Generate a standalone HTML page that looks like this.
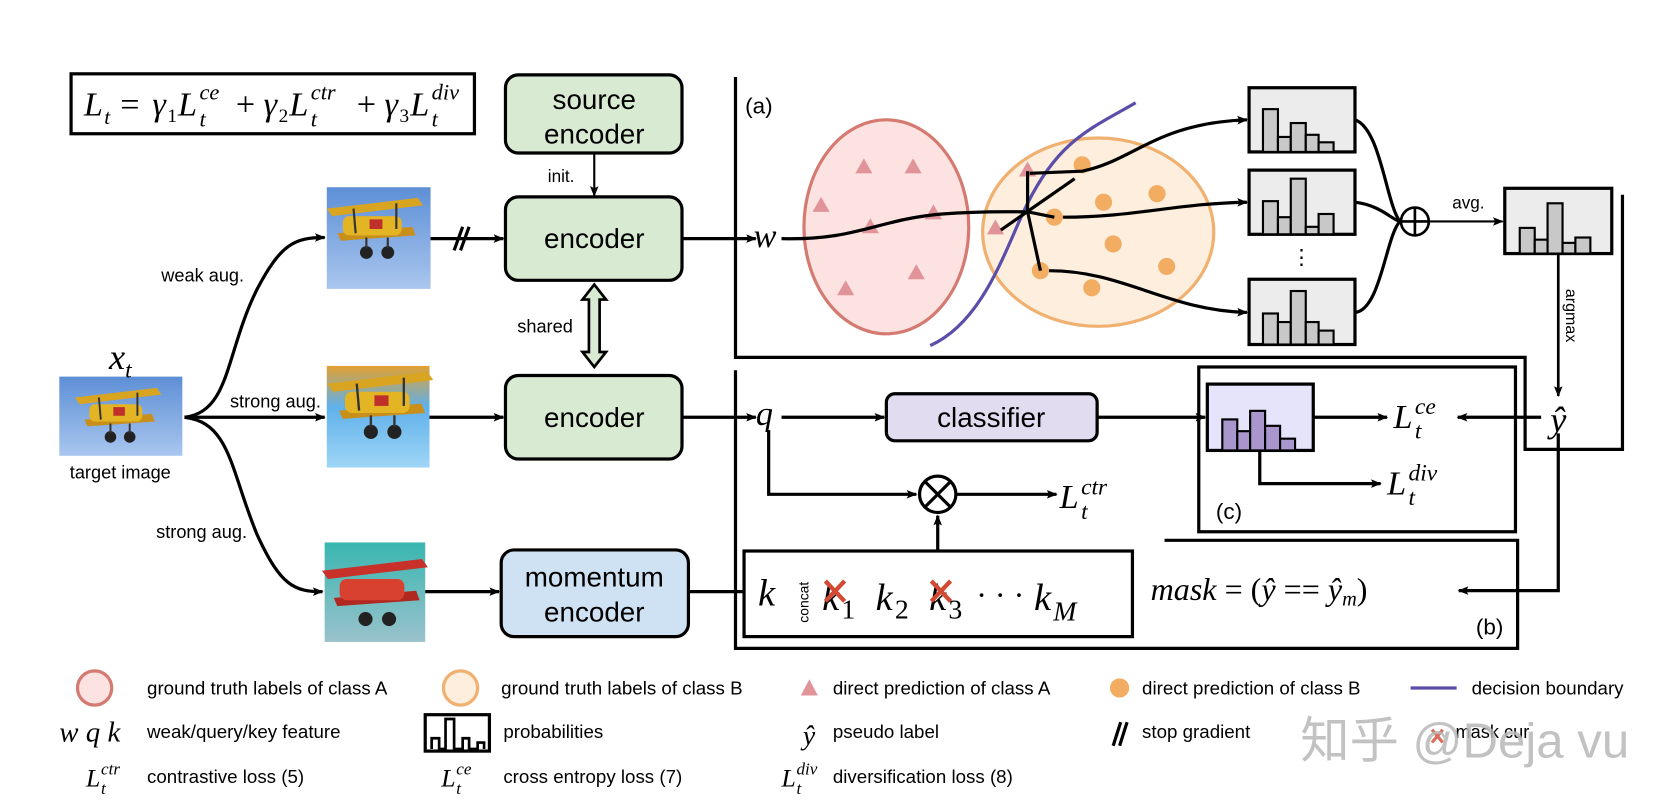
<!DOCTYPE html>
<html><head><meta charset="utf-8"><style>
html,body{margin:0;padding:0;background:#fff;}
svg{display:block}
.s{font-family:"Liberation Sans",sans-serif;}
.m{font-family:"Liberation Serif",serif;font-style:italic;}
.u{font-family:"Liberation Serif",serif;}
</style></head><body>
<svg width="1670" height="811" viewBox="0 0 1560 758" xmlns="http://www.w3.org/2000/svg">
<defs>
<marker id="a" markerWidth="10" markerHeight="8" refX="9" refY="4" orient="auto" markerUnits="userSpaceOnUse"><path d="M0,0 L10,4 L0,8 L2,4 Z" fill="#000"/></marker>
<linearGradient id="sky" x1="0" y1="0" x2="0" y2="1"><stop offset="0" stop-color="#5d8fd6"/><stop offset="1" stop-color="#a9c6ee"/></linearGradient>
<linearGradient id="sky2" x1="0" y1="0" x2="0" y2="1"><stop offset="0" stop-color="#e2a030"/><stop offset="0.4" stop-color="#5fb0ea"/><stop offset="1" stop-color="#9fd6f6"/></linearGradient>
<linearGradient id="sky3" x1="0" y1="0" x2="0" y2="1"><stop offset="0" stop-color="#39b6b0"/><stop offset="1" stop-color="#9ac2cc"/></linearGradient>
<g id="plane"><path d="M-45,-15 L40,-25 L45,-18 L-40,-8Z" fill="#d9a520"/><path d="M-35,8 L35,2 L38,10 L-32,15Z" fill="#c8901a"/><rect x="-30" y="-8" width="55" height="18" rx="6" fill="#e3b424"/><rect x="-5" y="-5" width="12" height="9" fill="#c0302a"/><line x1="-20" y1="-15" x2="-18" y2="8" stroke="#333" stroke-width="2"/><line x1="20" y1="-20" x2="20" y2="4" stroke="#333" stroke-width="2"/><circle cx="-8" cy="26" r="6" fill="#222"/><circle cx="12" cy="26" r="6" fill="#222"/><line x1="-8" y1="12" x2="-8" y2="22" stroke="#333" stroke-width="2"/><line x1="12" y1="12" x2="12" y2="22" stroke="#333" stroke-width="2"/></g>
</defs>

<!-- formula -->
<rect x="66" y="69" width="377" height="56" fill="#fff" stroke="#000" stroke-width="3"/>
<g font-size="32">
<text class="m" x="78" y="108">L</text><text class="m" x="97" y="116" font-size="20">t</text>
<text class="u" x="112" y="108">=</text>
<text class="m" x="142" y="108">γ</text><text class="u" x="156" y="114" font-size="18">1</text>
<text class="m" x="166" y="108">L</text><text class="m" x="186" y="93" font-size="21">ce</text><text class="m" x="186" y="118" font-size="21">t</text>
<text class="u" x="220" y="108">+</text>
<text class="m" x="246" y="108">γ</text><text class="u" x="260" y="114" font-size="18">2</text>
<text class="m" x="270" y="108">L</text><text class="m" x="290" y="93" font-size="21">ctr</text><text class="m" x="290" y="118" font-size="21">t</text>
<text class="u" x="333" y="108">+</text>
<text class="m" x="359" y="108">γ</text><text class="u" x="373" y="114" font-size="18">3</text>
<text class="m" x="383" y="108">L</text><text class="m" x="403" y="93" font-size="21">div</text><text class="m" x="403" y="118" font-size="21">t</text>
</g>

<!-- encoders -->
<rect x="472" y="70" width="165" height="73" rx="12" fill="#d9ead3" stroke="#000" stroke-width="3"/>
<text class="s" x="555" y="102" font-size="26" text-anchor="middle">source</text>
<text class="s" x="555" y="134" font-size="26" text-anchor="middle">encoder</text>
<text class="s" x="524" y="170" font-size="16" text-anchor="middle">init.</text>
<line x1="555" y1="143" x2="555" y2="183" stroke="#000" stroke-width="2" marker-end="url(#a)"/>
<rect x="472" y="184" width="165" height="78" rx="12" fill="#d9ead3" stroke="#000" stroke-width="3"/>
<text class="s" x="555" y="232" font-size="26" text-anchor="middle">encoder</text>
<path d="M555,266 L566,280 L560,280 L560,329 L566,329 L555,343 L544,329 L550,329 L550,280 L544,280 Z" fill="#d9ead3" stroke="#000" stroke-width="2.5"/>
<text class="s" x="509" y="311" font-size="17" text-anchor="middle">shared</text>
<rect x="472" y="351" width="165" height="78" rx="12" fill="#d9ead3" stroke="#000" stroke-width="3"/>
<text class="s" x="555" y="399" font-size="26" text-anchor="middle">encoder</text>
<rect x="468" y="514" width="175" height="81" rx="12" fill="#cfe2f3" stroke="#000" stroke-width="3"/>
<text class="s" x="555" y="548" font-size="26" text-anchor="middle">momentum</text>
<text class="s" x="555" y="581" font-size="26" text-anchor="middle">encoder</text>

<!-- images -->
<rect x="55" y="352" width="115" height="74" fill="url(#sky)"/>
<use href="#plane" transform="translate(110,385) scale(0.9)"/>
<text class="m" x="112" y="345" font-size="34" text-anchor="middle">x<tspan font-size="22" dy="8">t</tspan></text>
<text class="s" x="112" y="447" font-size="17" text-anchor="middle">target image</text>
<rect x="305" y="175" width="97" height="95" fill="url(#sky)"/>
<use href="#plane" transform="translate(350,210) scale(1.0)"/>
<rect x="305" y="342" width="96" height="95" fill="url(#sky2)"/>
<use href="#plane" transform="translate(355,375) scale(1.1)"/>
<rect x="303" y="507" width="94" height="93" fill="url(#sky3)"/>
<g transform="translate(350,550) scale(1.1)"><path d="M-45,-15 L40,-25 L45,-18 L-40,-8Z" fill="#c8302a"/><path d="M-35,8 L35,2 L38,10 L-32,15Z" fill="#b02820"/><rect x="-30" y="-8" width="55" height="18" rx="6" fill="#d84030"/><circle cx="-8" cy="26" r="6" fill="#222"/><circle cx="12" cy="26" r="6" fill="#222"/></g>

<!-- aug arrows -->
<g fill="none" stroke="#000" stroke-width="3">
<path d="M172,390 C215,385 210,330 240,270 C262,228 275,222 303,222" marker-end="url(#a)"/>
<path d="M172,390 L303,390" marker-end="url(#a)"/>
<path d="M172,390 C215,395 215,440 240,500 C262,548 275,553 301,553" marker-end="url(#a)"/>
<path d="M402,223 L470,223" marker-end="url(#a)"/>
<path d="M401,390 L470,390" marker-end="url(#a)"/>
<path d="M397,553 L466,553" marker-end="url(#a)"/>
<path d="M637,223 L706,223" marker-end="url(#a)"/>
<path d="M637,390 L706,390" marker-end="url(#a)"/>
<path d="M643,553 L706,553" marker-end="url(#a)"/>
</g>
<g stroke="#000" stroke-width="3"><line x1="424" y1="234" x2="432" y2="212"/><line x1="430" y1="234" x2="438" y2="212"/></g>
<text class="s" x="189" y="263" font-size="17" text-anchor="middle">weak aug.</text>
<text class="s" x="257" y="381" font-size="17" text-anchor="middle">strong aug.</text>
<text class="s" x="188" y="503" font-size="17" text-anchor="middle">strong aug.</text>

<!-- panel (a) -->
<polyline points="687,72 687,334 1425,334 1425,420 1516,420 1516,182" fill="none" stroke="#000" stroke-width="3"/>
<text class="s" x="696" y="106" font-size="21">(a)</text>
<ellipse cx="828" cy="212" rx="77" ry="100" fill="#fde2e2" stroke="#d47a70" stroke-width="3"/>
<ellipse cx="1026" cy="217" rx="108" ry="88" fill="#fdeedd" stroke="#f0b070" stroke-width="3"/>
<g fill="#e0949a">
<path d="M807,148 L815,162 L799,162Z"/><path d="M853,148 L861,162 L845,162Z"/><path d="M767,184 L775,198 L759,198Z"/><path d="M813,204 L821,218 L805,218Z"/><path d="M872,191 L880,205 L864,205Z"/><path d="M856,247 L864,261 L848,261Z"/><path d="M790,262 L798,276 L782,276Z"/>
<path d="M960,151 L968,165 L952,165Z"/><path d="M930,205 L938,219 L922,219Z"/>
</g>
<g fill="#f3ad63"><circle cx="1011" cy="154" r="8"/><circle cx="1031" cy="189" r="8"/><circle cx="1081" cy="181" r="8"/><circle cx="985" cy="203" r="8"/><circle cx="1040" cy="228" r="8"/><circle cx="1090" cy="249" r="8"/><circle cx="972" cy="253" r="8"/><circle cx="1020" cy="269" r="8"/></g>
<path d="M869,323 C920,300 940,230 960,190 C990,130 1020,120 1061,96" fill="none" stroke="#5b4ea8" stroke-width="3"/>
<text class="m" x="704" y="231" font-size="32">w</text>
<g fill="none" stroke="#000" stroke-width="3">
<path d="M730,223 C800,225 820,205 880,200 C920,197 940,198 958,198"/>
<line x1="960" y1="160" x2="960" y2="198"/>
<path d="M935,215 L1004,167"/>
<path d="M960,198 L985,203"/>
<path d="M960,198 L972,253"/>
<path d="M962,162 L1011,160 C1060,150 1080,115 1165,112" marker-end="url(#a)"/>
<path d="M993,203 C1060,203 1100,190 1165,189" marker-end="url(#a)"/>
<path d="M980,253 C1050,253 1090,290 1165,292" marker-end="url(#a)"/>
</g>

<!-- hist boxes -->
<g stroke="#000" stroke-width="3">
<rect x="1167" y="82" width="99" height="60" fill="#ececec"/>
<rect x="1167" y="159" width="99" height="60" fill="#ececec"/>
<rect x="1167" y="261" width="99" height="61" fill="#ececec"/>
<rect x="1406" y="176" width="100" height="61" fill="#ececec"/>
</g>
<g fill="#c8c8c8" stroke="#000" stroke-width="2">
<rect x="1180" y="102" width="14" height="40"/><rect x="1194" y="128" width="12" height="14"/><rect x="1206" y="115" width="14" height="27"/><rect x="1220" y="126" width="12" height="16"/><rect x="1232" y="133" width="14" height="9"/>
<rect x="1180" y="188" width="14" height="31"/><rect x="1194" y="203" width="12" height="16"/><rect x="1206" y="167" width="14" height="52"/><rect x="1220" y="212" width="12" height="7"/><rect x="1232" y="200" width="14" height="19"/>
<rect x="1180" y="293" width="14" height="29"/><rect x="1194" y="301" width="12" height="21"/><rect x="1206" y="272" width="14" height="50"/><rect x="1220" y="301" width="12" height="21"/><rect x="1232" y="309" width="14" height="13"/>
<rect x="1420" y="213" width="14" height="24"/><rect x="1434" y="224" width="12" height="13"/><rect x="1446" y="190" width="14" height="47"/><rect x="1460" y="227" width="12" height="10"/><rect x="1472" y="222" width="14" height="15"/>
</g>
<text class="s" x="1216" y="247" font-size="20" text-anchor="middle">⋮</text>
<g fill="none" stroke="#000" stroke-width="3">
<path d="M1266,112 C1290,120 1295,190 1308,207"/>
<path d="M1266,189 C1290,192 1300,205 1308,207"/>
<path d="M1266,292 C1290,290 1295,220 1308,207"/>
<path d="M1336,207 L1404,207" marker-end="url(#a)" stroke-width="2"/>
</g>
<circle cx="1322" cy="207" r="13" fill="#fff" stroke="#000" stroke-width="2.5"/>
<line x1="1309" y1="207" x2="1335" y2="207" stroke="#000" stroke-width="2.5"/><line x1="1322" y1="194" x2="1322" y2="220" stroke="#000" stroke-width="2.5"/>
<text class="s" x="1372" y="195" font-size="16" text-anchor="middle">avg.</text>
<line x1="1456" y1="237" x2="1456" y2="370" stroke="#000" stroke-width="2.5" marker-end="url(#a)"/>
<text class="s" x="0" y="0" font-size="15" transform="translate(1463,270) rotate(90)">argmax</text>

<!-- panel (b) -->
<polyline points="687,346 687,606 1418,606 1418,505 1088,505" fill="none" stroke="#000" stroke-width="3"/>
<text class="s" x="1379" y="593" font-size="21">(b)</text>
<rect x="1120" y="343" width="296" height="154" fill="none" stroke="#000" stroke-width="3"/>
<text class="s" x="1136" y="485" font-size="21">(c)</text>
<text class="m" x="706" y="397" font-size="32">q</text>
<rect x="828" y="368" width="197" height="44" rx="8" fill="#e1dcef" stroke="#000" stroke-width="3"/>
<text class="s" x="926" y="399" font-size="26" text-anchor="middle">classifier</text>
<rect x="1128" y="359" width="99" height="62" fill="#e6e4fb" stroke="#000" stroke-width="3"/>
<g fill="#a996cc" stroke="#000" stroke-width="2">
<rect x="1142" y="392" width="14" height="29"/><rect x="1156" y="403" width="12" height="18"/><rect x="1168" y="384" width="14" height="37"/><rect x="1182" y="398" width="14" height="23"/><rect x="1196" y="410" width="14" height="11"/>
</g>
<g fill="none" stroke="#000" stroke-width="3">
<path d="M730,390 L826,390" marker-end="url(#a)"/>
<path d="M1025,390 L1126,390" marker-end="url(#a)"/>
<path d="M1227,390 L1296,390" marker-end="url(#a)"/>
<path d="M1440,390 L1362,390" marker-end="url(#a)"/>
<path d="M1177,421 L1177,452 L1290,452" marker-end="url(#a)"/>
<path d="M718,402 L718,462 L856,462" marker-end="url(#a)"/>
<path d="M894,462 L987,462" marker-end="url(#a)"/>
<path d="M876,514 L876,482" marker-end="url(#a)"/>
<path d="M1456,405 L1456,552 L1363,552" marker-end="url(#a)"/>
</g>
<circle cx="876" cy="462" r="17" fill="#fff" stroke="#000" stroke-width="3"/>
<line x1="864" y1="450" x2="888" y2="474" stroke="#000" stroke-width="3"/><line x1="888" y1="450" x2="864" y2="474" stroke="#000" stroke-width="3"/>
<text class="m" x="1302" y="400" font-size="32">L</text><text class="m" x="1322" y="387" font-size="22">ce</text><text class="m" x="1322" y="410" font-size="22">t</text>
<text class="m" x="1456" y="404" font-size="34" text-anchor="middle">ŷ</text>
<text class="m" x="1296" y="462" font-size="32">L</text><text class="m" x="1316" y="449" font-size="22">div</text><text class="m" x="1316" y="472" font-size="22">t</text>
<text class="m" x="990" y="475" font-size="32">L</text><text class="m" x="1010" y="462" font-size="22">ctr</text><text class="m" x="1010" y="485" font-size="22">t</text>

<rect x="695" y="515" width="363" height="80" fill="#fff" stroke="#000" stroke-width="3"/>
<text class="m" x="708" y="566" font-size="36">k</text>
<text class="s" font-size="13" transform="translate(755,582) rotate(-90)">concat</text>
<text class="m" x="768" y="570" font-size="36">k</text><text class="u" x="786" y="578" font-size="26">1</text>
<text class="m" x="818" y="570" font-size="36">k</text><text class="u" x="836" y="578" font-size="26">2</text>
<text class="m" x="868" y="570" font-size="36">k</text><text class="u" x="886" y="578" font-size="26">3</text>
<text class="u" x="912" y="566" font-size="30">· · ·</text>
<text class="m" x="966" y="570" font-size="36">k</text><text class="m" x="984" y="580" font-size="26">M</text>
<g stroke="#d24a32" stroke-width="4"><line x1="771" y1="543" x2="789" y2="562"/><line x1="789" y1="543" x2="771" y2="562"/><line x1="870" y1="543" x2="888" y2="562"/><line x1="888" y1="543" x2="870" y2="562"/></g>
<text class="m" x="1075" y="561" font-size="30">mask <tspan class="u" font-style="normal">= (</tspan>ŷ <tspan font-style="normal">==</tspan> ŷ<tspan font-size="19" dy="5">m</tspan><tspan font-style="normal" dy="-5">)</tspan></text>

<!-- legend -->
<circle cx="88" cy="643" r="16" fill="#fde2e2" stroke="#d47a70" stroke-width="3"/>
<text class="s" x="137" y="649" font-size="17.5">ground truth labels of class A</text>
<circle cx="430" cy="643" r="16" fill="#fdeedd" stroke="#f0b070" stroke-width="3"/>
<text class="s" x="468" y="649" font-size="17.5">ground truth labels of class B</text>
<path d="M756,635 L764,650 L748,650Z" fill="#e0949a"/>
<text class="s" x="778" y="649" font-size="17.5">direct prediction of class A</text>
<circle cx="1046" cy="643" r="9" fill="#f3ad63"/>
<text class="s" x="1067" y="649" font-size="17.5">direct prediction of class B</text>
<line x1="1318" y1="643" x2="1361" y2="643" stroke="#5b4ea8" stroke-width="3"/>
<text class="s" x="1375" y="649" font-size="17.5">decision boundary</text>
<text class="m" x="55" y="693" font-size="27">w q k</text>
<text class="s" x="137" y="690" font-size="17.5">weak/query/key feature</text>
<rect x="397" y="668" width="60" height="34" fill="#fff" stroke="#000" stroke-width="3"/>
<g fill="none" stroke="#000" stroke-width="2.5"><polyline points="403,700 403,690 410,690 410,700 416,700 416,672 424,672 424,700 432,700 432,690 438,690 438,700 446,700 446,694 452,694 452,700"/></g>
<text class="s" x="470" y="690" font-size="17.5">probabilities</text>
<text class="m" x="750" y="696" font-size="26">ŷ</text>
<text class="s" x="778" y="690" font-size="17.5">pseudo label</text>
<g stroke="#000" stroke-width="3"><line x1="1040" y1="697" x2="1047" y2="675"/><line x1="1046" y1="697" x2="1053" y2="675"/></g>
<text class="s" x="1067" y="690" font-size="17.5">stop gradient</text>
<g stroke="#d24a32" stroke-width="3" opacity="0.8"><line x1="1338" y1="682" x2="1348" y2="694"/><line x1="1348" y1="682" x2="1338" y2="694"/></g>
<text class="s" x="1360" y="690" font-size="17">mask cur</text>
<text class="s" x="1215" y="708" font-size="46" fill="#b8b8b8" opacity="0.85" font-family="'Liberation Sans','Noto Sans CJK SC',sans-serif">知乎 @Deja vu</text>
<text class="m" x="80" y="735" font-size="24">L</text><text class="m" x="94" y="724" font-size="16">ctr</text><text class="m" x="94" y="742" font-size="16">t</text>
<text class="s" x="137" y="732" font-size="17.5">contrastive loss (5)</text>
<text class="m" x="412" y="735" font-size="24">L</text><text class="m" x="426" y="724" font-size="16">ce</text><text class="m" x="426" y="742" font-size="16">t</text>
<text class="s" x="470" y="732" font-size="17.5">cross entropy loss (7)</text>
<text class="m" x="730" y="735" font-size="24">L</text><text class="m" x="744" y="724" font-size="16">div</text><text class="m" x="744" y="742" font-size="16">t</text>
<text class="s" x="778" y="732" font-size="17.5">diversification loss (8)</text>
</svg>
</body></html>
